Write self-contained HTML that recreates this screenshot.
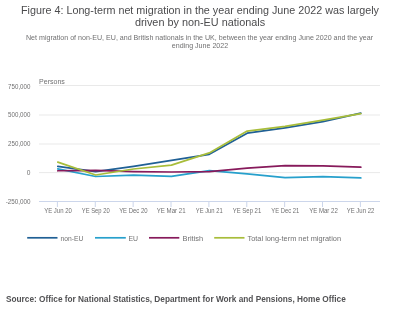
<!DOCTYPE html>
<html><head><meta charset="utf-8">
<style>
html,body{margin:0;padding:0;background:#fff;width:400px;height:314px;overflow:hidden;}
svg{display:block;will-change:transform;font-family:"Liberation Sans",sans-serif;}
</style></head>
<body>
<svg width="400" height="314" viewBox="0 0 400 314">
<rect width="400" height="314" fill="#fff"/>
<g stroke="#e9e9e9" stroke-width="1"><line x1="39" x2="380" y1="85.5" y2="85.5"/><line x1="39" x2="380" y1="115" y2="115"/><line x1="39" x2="380" y1="144" y2="144"/><line x1="39" x2="380" y1="172.6" y2="172.6"/></g>
<line x1="39" x2="380" y1="201.5" y2="201.5" stroke="#ccd6eb" stroke-width="1"/>
<g stroke="#ccd6eb" stroke-width="1"><line x1="57.40" x2="57.40" y1="201.5" y2="207"/><line x1="95.27" x2="95.27" y1="201.5" y2="207"/><line x1="133.15" x2="133.15" y1="201.5" y2="207"/><line x1="171.03" x2="171.03" y1="201.5" y2="207"/><line x1="208.90" x2="208.90" y1="201.5" y2="207"/><line x1="246.78" x2="246.78" y1="201.5" y2="207"/><line x1="284.65" x2="284.65" y1="201.5" y2="207"/><line x1="322.53" x2="322.53" y1="201.5" y2="207"/><line x1="360.40" x2="360.40" y1="201.5" y2="207"/></g>
<g fill="none" stroke-width="1.75" stroke-linejoin="round" stroke-linecap="round">
<polyline stroke="#206095" points="57.80,166.3 95.67,171.7 133.55,166.4 171.43,160.3 209.30,154.3 247.18,133.2 285.05,127.8 322.93,121.7 360.80,113.2"/>
<polyline stroke="#27a0cc" points="57.80,168.9 95.67,176.5 133.55,175.2 171.43,176.4 209.30,170.6 247.18,173.9 285.05,177.6 322.93,176.7 360.80,177.9"/>
<polyline stroke="#871a5b" points="57.80,170.75 95.67,170.3 133.55,171.55 171.43,172 209.30,171.7 247.18,168.2 285.05,165.7 322.93,165.9 360.80,167.2"/>
<polyline stroke="#a8bd3a" points="57.80,162.1 95.67,175 133.55,169 171.43,165.05 209.30,152.9 247.18,131.1 285.05,126.3 322.93,120.1 360.80,113.7"/>
</g>
<g stroke-width="1.7"><line x1="27.2" x2="57.5" y1="237.8" y2="237.8" stroke="#206095"/><line x1="95" x2="125.8" y1="237.8" y2="237.8" stroke="#27a0cc"/><line x1="149" x2="179.3" y1="237.8" y2="237.8" stroke="#871a5b"/><line x1="214.2" x2="244.5" y1="237.8" y2="237.8" stroke="#a8bd3a"/></g>
<text x="200" y="13.6" font-size="10.75" fill="#4b4b4d" text-anchor="middle">Figure 4: Long-term net migration in the year ending June 2022 was largely</text>
<text x="200" y="25.7" font-size="10.85" fill="#4b4b4d" text-anchor="middle">driven by non-EU nationals</text>
<text x="199.5" y="39.5" font-size="7.1" fill="#707071" text-anchor="middle">Net migration of non-EU, EU, and British nationals in the UK, between the year ending June 2020 and the year</text>
<text x="200" y="47.8" font-size="7.1" fill="#707071" text-anchor="middle">ending June 2022</text>
<text x="39" y="84" font-size="7" fill="#707071" textLength="25.9" lengthAdjust="spacingAndGlyphs">Persons</text>
<text x="30.4" y="88.8" font-size="6.6" fill="#707071" text-anchor="end" textLength="22.3" lengthAdjust="spacingAndGlyphs">750,000</text>
<text x="30.4" y="117.4" font-size="6.6" fill="#707071" text-anchor="end" textLength="22.3" lengthAdjust="spacingAndGlyphs">500,000</text>
<text x="30.4" y="146.3" font-size="6.6" fill="#707071" text-anchor="end" textLength="22.3" lengthAdjust="spacingAndGlyphs">250,000</text>
<text x="30.4" y="175" font-size="6.6" fill="#707071" text-anchor="end">0</text>
<text x="30.6" y="203.9" font-size="6.6" fill="#707071" text-anchor="end" textLength="24.9" lengthAdjust="spacingAndGlyphs">-250,000</text>
<text x="58.0" y="213" font-size="6.9" fill="#707071" text-anchor="middle" textLength="27.6" lengthAdjust="spacingAndGlyphs">YE Jun 20</text>
<text x="95.7" y="213" font-size="6.9" fill="#707071" text-anchor="middle" textLength="27.9" lengthAdjust="spacingAndGlyphs">YE Sep 20</text>
<text x="133.4" y="213" font-size="6.9" fill="#707071" text-anchor="middle" textLength="28.5" lengthAdjust="spacingAndGlyphs">YE Dec 20</text>
<text x="171.2" y="213" font-size="6.9" fill="#707071" text-anchor="middle" textLength="28.9" lengthAdjust="spacingAndGlyphs">YE Mar 21</text>
<text x="209.2" y="213" font-size="6.9" fill="#707071" text-anchor="middle" textLength="26.9" lengthAdjust="spacingAndGlyphs">YE Jun 21</text>
<text x="247.0" y="213" font-size="6.9" fill="#707071" text-anchor="middle" textLength="28.5" lengthAdjust="spacingAndGlyphs">YE Sep 21</text>
<text x="285.3" y="213" font-size="6.9" fill="#707071" text-anchor="middle" textLength="27.9" lengthAdjust="spacingAndGlyphs">YE Dec 21</text>
<text x="323.5" y="213" font-size="6.9" fill="#707071" text-anchor="middle" textLength="28.7" lengthAdjust="spacingAndGlyphs">YE Mar 22</text>
<text x="360.5" y="213" font-size="6.9" fill="#707071" text-anchor="middle" textLength="27.6" lengthAdjust="spacingAndGlyphs">YE Jun 22</text>
<text x="60.5" y="240.5" font-size="7.2" fill="#707071" textLength="22.8" lengthAdjust="spacingAndGlyphs">non-EU</text>
<text x="128.5" y="240.5" font-size="7.2" fill="#707071" textLength="9.6" lengthAdjust="spacingAndGlyphs">EU</text>
<text x="182.5" y="240.5" font-size="7.2" fill="#707071" textLength="20.6" lengthAdjust="spacingAndGlyphs">British</text>
<text x="247.5" y="240.5" font-size="7.2" fill="#707071" textLength="93.5" lengthAdjust="spacingAndGlyphs">Total long-term net migration</text>
<text x="6" y="301.5" font-size="8.28" fill="#525254" font-weight="bold">Source: Office for National Statistics, Department for Work and Pensions, Home Office</text>
</svg>
</body></html>
